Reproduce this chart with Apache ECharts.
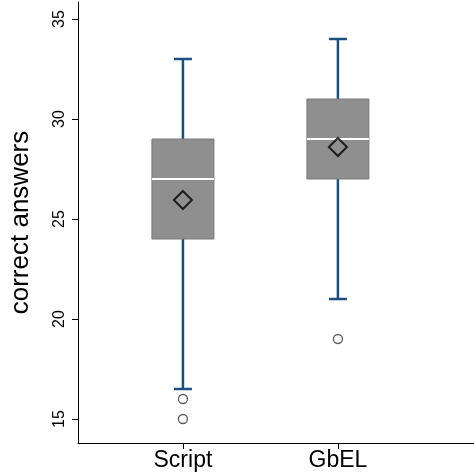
<!DOCTYPE html>
<html><head><meta charset="utf-8">
<script src="https://cdn.jsdelivr.net/npm/echarts@6/dist/echarts.min.js"></script>
<style>html,body{margin:0;padding:0;background:#fff}#c{width:474px;height:474px}</style>
</head><body><div id="c"></div>
<script>
// box stats: [lowWhisker, q1, median, q3, highWhisker]
const categories = ['Script', 'GbEL'];
const boxStats = [[16.5, 24, 27, 29, 33], [21, 27, 29, 31, 34]];
const means = [25.95, 28.6];
const outliers = [[1, 16], [1, 15], [2, 19]];
const yTicks = [15, 20, 25, 30, 35];

const chart = echarts.init(document.getElementById('c'));
const navy = '#1a4f80';

function renderBox(params, api) {
  const pos = api.value(0);
  const s = boxStats[pos - 1];
  const p = v => api.coord([pos, v]);
  const lo = p(s[0]), q1 = p(s[1]), md = p(s[2]), q3 = p(s[3]), hi = p(s[4]);
  const x = lo[0];
  const halfW = x - api.coord([pos - 0.2, s[0]])[0];
  const line = (y1, y2, x1, x2, color, w) => ({
    type: 'line', shape: { x1: x1, y1: y1, x2: x2, y2: y2 },
    style: { stroke: color, lineWidth: w }
  });
  return {
    type: 'group', children: [
      line(hi[1], q3[1], x, x, navy, 2.5),
      line(q1[1], lo[1], x, x, navy, 2.5),
      line(hi[1], hi[1], x - 9, x + 9, navy, 2.5),
      line(lo[1], lo[1], x - 9, x + 9, navy, 2.5),
      { type: 'rect', shape: { x: x - halfW, y: q3[1], width: halfW * 2, height: q1[1] - q3[1] },
        style: { fill: '#8f8f8f', stroke: '#7a7a7a', lineWidth: 1 } },
      line(md[1], md[1], x - halfW, x + halfW, '#ffffff', 2)
    ]
  };
}

chart.setOption({
  animation: false,
  grid: { left: 55, right: 0, top: 2, bottom: 31 },
  xAxis: {
    type: 'value', min: 0.323, max: 2.878,
    splitLine: { show: false },
    axisLine: { lineStyle: { color: '#000', width: 1 } },
    axisTick: { show: true, length: 6, customValues: [1, 2], lineStyle: { color: '#000' } },
    axisLabel: { color: '#000', fontSize: 23, fontFamily: 'Liberation Sans', margin: 6,
      customValues: [1, 2], formatter: v => categories[Math.round(v) - 1] || '' }
  },
  yAxis: {
    type: 'value', min: 13.8, max: 35.85,
    name: 'correct answers', nameLocation: 'middle', nameGap: 44, nameRotate: 90,
    nameTextStyle: { color: '#000', fontSize: 26, fontFamily: 'Liberation Sans' },
    splitLine: { show: false },
    axisLine: { show: true, lineStyle: { color: '#000', width: 1 } },
    axisTick: { show: true, length: 6, customValues: yTicks, lineStyle: { color: '#000' } },
    axisLabel: { color: '#000', fontSize: 16, fontFamily: 'Liberation Sans', rotate: 90,
      customValues: yTicks, margin: 10 }
  },
  series: [
    { type: 'custom', renderItem: renderBox, data: [[1], [2]], z: 2 },
    { type: 'scatter', data: means.map((m, i) => [i + 1, m]), symbol: 'diamond', symbolSize: [18, 18],
      itemStyle: { color: 'rgba(0,0,0,0)', borderColor: '#000', borderWidth: 2 }, z: 3 },
    { type: 'scatter', data: outliers, symbol: 'circle', symbolSize: 9,
      itemStyle: { color: '#fff', borderColor: '#333', borderWidth: 1.3 }, z: 3 }
  ]
});
</script></body></html>
